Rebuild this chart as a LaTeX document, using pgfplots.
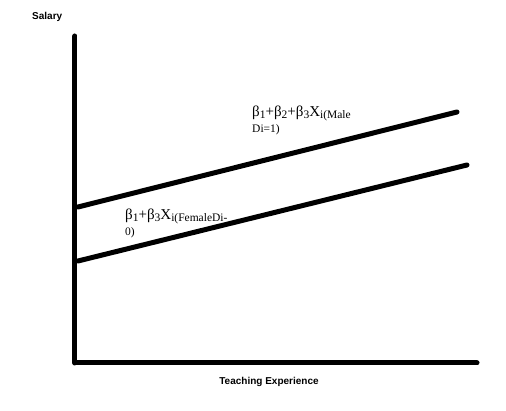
\documentclass[border=0pt]{standalone}
\usepackage{fontspec}
\setmainfont{Liberation Serif}
\newfontfamily\labelfont{Liberation Sans}
\usepackage{pgfplots}
\pgfplotsset{compat=1.18}
\newcommand\sub[1]{\raisebox{-2pt}{\fontsize{11.5}{13}\selectfont #1}}
\begin{document}
\begin{tikzpicture}
\begin{axis}[
  scale only axis,
  width=402pt, height=327pt,
  xmin=75, xmax=477, ymin=48, ymax=375,
  axis lines*=left,
  axis line style={line width=5pt, -, line cap=round},
  xtick=\empty, ytick=\empty,
  clip=false,
]
\path (axis cs:0,0) rectangle (axis cs:506,411);
\addplot[black, line width=5pt, line cap=round] coordinates {(78,204) (457,299)};
\addplot[black, line width=5pt, line cap=round] coordinates {(78,150) (467,246)};
\node[anchor=base west, inner sep=0pt, font=\fontsize{15}{18}\selectfont] at (axis cs:252,294)
  {β\sub{1}+β\sub{2}+β\sub{3}X\sub{i(Male}};
\node[anchor=base west, inner sep=0pt, font=\fontsize{11.5}{13}\selectfont] at (axis cs:252,278) {Di=1)};
\node[anchor=base west, inner sep=0pt, font=\fontsize{15}{18}\selectfont] at (axis cs:125,191)
  {β\sub{1}+β\sub{3}X\sub{i(FemaleDi-}};
\node[anchor=base west, inner sep=0pt, font=\fontsize{11.5}{13}\selectfont] at (axis cs:125,175) {0)};
\node[anchor=base west, inner sep=0pt, font=\labelfont\bfseries\fontsize{10}{12}\selectfont] at (axis cs:32,391) {Salary};
\node[anchor=base, inner sep=0pt, font=\labelfont\bfseries\fontsize{10}{12}\selectfont] at (axis cs:269,26) {Teaching Experience};
\end{axis}
\end{tikzpicture}
\end{document}
